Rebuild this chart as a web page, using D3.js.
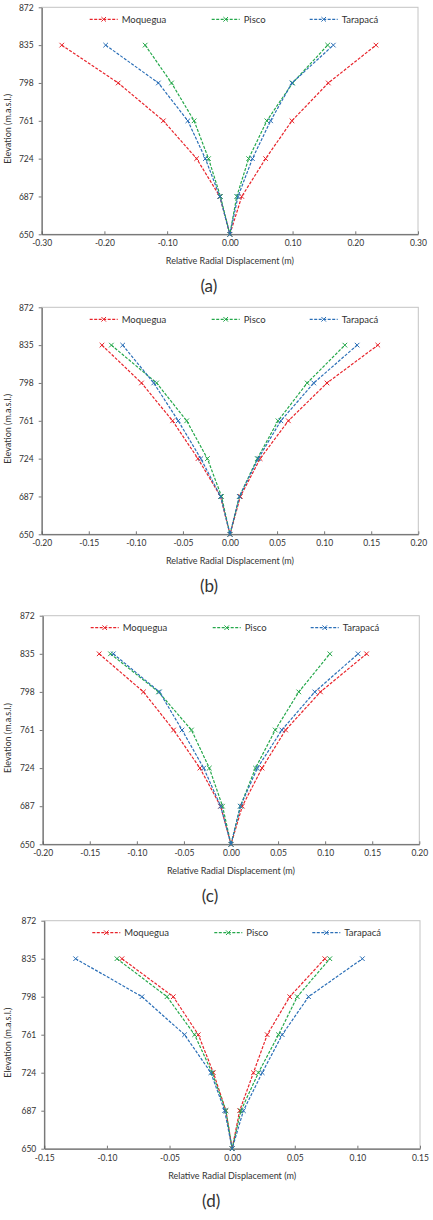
<!DOCTYPE html>
<html><head><meta charset="utf-8">
<script src="https://cdn.jsdelivr.net/npm/d3@7"></script>
<style>
html,body{margin:0;padding:0;background:#fff;}
svg{display:block;}
text{font-family:Lato,"Open Sans",sans-serif;fill:#333;}
</style></head>
<body>
<svg id="chart" width="433" height="1220"></svg>
<script>
// ---- data ----
const elevations = [835, 798, 761, 724, 687, 650];   // top to bottom
const yTicks = [650, 687, 724, 761, 798, 835, 872];
const seriesNames = ["Moquegua", "Pisco", "Tarapacá"];
const seriesColors = ["#e8242b", "#25a84b", "#2b6fb7"];
const panelLabels = ["(a)", "(b)", "(c)", "(d)"];
const xDomains = [[-0.30, 0.30], [-0.20, 0.20], [-0.20, 0.20], [-0.15, 0.15]];
const xTickSteps = [0.10, 0.05, 0.05, 0.05];

// left branch (835 -> 687) and right branch (835 -> 687); 650 is 0
const aMoqL = [-0.268, -0.178, -0.106, -0.053, -0.016];
const aMoqR = [0.233, 0.157, 0.099, 0.057, 0.019];
const aPisL = [-0.135, -0.093, -0.057, -0.034, -0.015];
const aPisR = [0.156, 0.100, 0.059, 0.030, 0.011];
const aTarL = [-0.198, -0.114, -0.067, -0.039, -0.016];
const aTarR = [0.165, 0.099, 0.065, 0.036, 0.013];

const bMoqL = [-0.136, -0.094, -0.061, -0.034, -0.010];
const bMoqR = [0.157, 0.103, 0.062, 0.032, 0.011];
const bPisL = [-0.126, -0.078, -0.046, -0.024, -0.009];
const bPisR = [0.122, 0.082, 0.051, 0.029, 0.010];
const bTarL = [-0.114, -0.081, -0.055, -0.031, -0.010];
const bTarR = [0.135, 0.089, 0.054, 0.030, 0.010];

const cMoqL = [-0.140, -0.093, -0.061, -0.033, -0.011];
const cMoqR = [0.144, 0.095, 0.058, 0.033, 0.012];
const cPisL = [-0.128, -0.077, -0.042, -0.023, -0.009];
const cPisR = [0.105, 0.072, 0.047, 0.026, 0.010];
const cTarL = [-0.125, -0.076, -0.052, -0.029, -0.011];
const cTarR = [0.135, 0.089, 0.054, 0.028, 0.010];

const dMoqL = [-0.088, -0.047, -0.027, -0.015, -0.005];
const dMoqR = [0.074, 0.046, 0.028, 0.017, 0.006];
const dPisL = [-0.092, -0.052, -0.030, -0.016, -0.005];
const dPisR = [0.078, 0.052, 0.037, 0.021, 0.007];
const dTarL = [-0.125, -0.072, -0.038, -0.017, -0.006];
const dTarR = [0.104, 0.061, 0.040, 0.024, 0.009];

const panelData = [
  [[aMoqL, aMoqR], [aPisL, aPisR], [aTarL, aTarR]],
  [[bMoqL, bMoqR], [bPisL, bPisR], [bTarL, bTarR]],
  [[cMoqL, cMoqR], [cPisL, cPisR], [cTarL, cTarR]],
  [[dMoqL, dMoqR], [dPisL, dPisR], [dTarL, dTarR]]
];

// ---- layout ----
const boxes = [
  {l: 41.7, r: 418.0, t: 7.3,   b: 234.3},
  {l: 41.7, r: 418.3, t: 307.3, b: 534.3},
  {l: 42.7, r: 419.3, t: 615.7, b: 844.3},
  {l: 44.3, r: 420.0, t: 920.7, b: 1148.7}
];

const svg = d3.select("#chart");

function crossPath(s) {
  return `M${-s},${-s}L${s},${s}M${-s},${s}L${s},${-s}`;
}

boxes.forEach((bx, pi) => {
  const g = svg.append("g");
  const x = d3.scaleLinear().domain(xDomains[pi]).range([bx.l, bx.r]);
  const y = d3.scaleLinear().domain([650, 872]).range([bx.b, bx.t]);

  // frame (top/right light)
  g.append("rect").attr("x", bx.l).attr("y", bx.t)
    .attr("width", bx.r - bx.l).attr("height", bx.b - bx.t)
    .attr("fill", "none").attr("stroke", "#c4c4c4").attr("stroke-width", 1);

  const [d0, d1] = xDomains[pi];
  const step = xTickSteps[pi];
  const n = Math.round((d1 - d0) / step);
  const xTickVals = d3.range(n + 1).map(i => +(d0 + i * step).toFixed(4));

  // x axis
  const xAxis = d3.axisBottom(x).tickValues(xTickVals)
    .tickFormat(d3.format(".2f")).tickSizeInner(-3).tickSizeOuter(0).tickPadding(6);
  const xg = g.append("g").attr("transform", `translate(0,${bx.b})`).call(xAxis);
  xg.select(".domain").attr("stroke", "#555");
  xg.selectAll(".tick line").attr("stroke", "#777");
  xg.selectAll("text").attr("font-size", 8.5).attr("fill", "#333")
    .attr("font-family", "Lato, 'Open Sans', sans-serif")
    .text(d => d3.format(".2f")(d).replace("−", "-"));

  // y axis
  const yAxis = d3.axisLeft(y).tickValues(yTicks)
    .tickFormat(d3.format("d")).tickSizeInner(3).tickSizeOuter(0).tickPadding(5);
  const yg = g.append("g").attr("transform", `translate(${bx.l},0)`).call(yAxis);
  yg.select(".domain").attr("stroke", "#555");
  yg.selectAll(".tick line").attr("stroke", "#777");
  yg.selectAll("text").attr("font-size", 8.5).attr("fill", "#333")
    .attr("font-family", "Lato, 'Open Sans', sans-serif");

  // axis titles
  g.append("text").attr("x", (bx.l + bx.r) / 2).attr("y", bx.b + 30)
    .attr("text-anchor", "middle").attr("font-size", 9)
    .text("Relative Radial Displacement (m)");
  const ymid = (bx.t + bx.b) / 2 + 8;
  g.append("text").attr("transform", `translate(11,${ymid}) rotate(-90)`)
    .attr("text-anchor", "middle").attr("font-size", 9)
    .text("Elevation (m.a.s.l.)");

  // panel label
  g.append("text").attr("x", (bx.l + bx.r) / 2 - 21).attr("y", bx.b + 58)
    .attr("text-anchor", "middle").attr("font-size", 17)
    .text(panelLabels[pi]);

  // series
  panelData[pi].forEach((pair, si) => {
    const [L, R] = pair;
    const pts = [];
    L.forEach((v, i) => pts.push([v, elevations[i]]));
    pts.push([0, 650]);
    for (let i = R.length - 1; i >= 0; i--) pts.push([R[i], elevations[i]]);
    const line = d3.line().x(d => x(d[0])).y(d => y(d[1]));
    g.append("path").datum(pts).attr("d", line)
      .attr("fill", "none").attr("stroke", seriesColors[si])
      .attr("stroke-width", 1.2).attr("stroke-dasharray", "3,1.5");
    g.selectAll(null).data(pts).enter().append("path")
      .attr("transform", d => `translate(${x(d[0])},${y(d[1])})`)
      .attr("d", crossPath(2.3))
      .attr("stroke", seriesColors[si]).attr("stroke-width", 1).attr("fill", "none");
  });

  // legend
  const legX = [bx.l + 48, bx.l + 170, bx.l + 268];
  const legY = bx.t + 12;
  seriesNames.forEach((name, si) => {
    const lx = legX[si];
    g.append("line").attr("x1", lx).attr("x2", lx + 28).attr("y1", legY).attr("y2", legY)
      .attr("stroke", seriesColors[si]).attr("stroke-width", 1.2).attr("stroke-dasharray", "3,1.5");
    g.append("path").attr("transform", `translate(${lx + 14},${legY})`)
      .attr("d", crossPath(2.3)).attr("stroke", seriesColors[si]).attr("stroke-width", 1);
    g.append("text").attr("x", lx + 32).attr("y", legY).attr("dy", "0.35em")
      .attr("font-size", 9.5).text(name);
  });
});
</script>
</body></html>
